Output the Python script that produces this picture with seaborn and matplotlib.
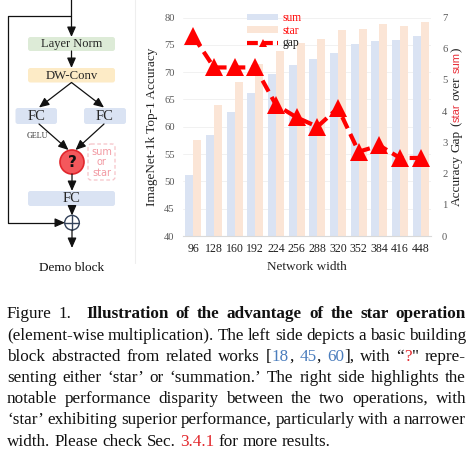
import numpy as np
import pandas as pd
import matplotlib
matplotlib.use("Agg")
import matplotlib.pyplot as plt
import seaborn as sns
from matplotlib.patches import FancyBboxPatch, Circle, Patch
from matplotlib.lines import Line2D

# ---------------- data ----------------
widths = [96, 128, 160, 192, 224, 256, 288, 320, 352, 384, 416, 448]
sum_acc = [51.1, 58.5, 62.7, 66.1, 69.6, 71.3, 72.4, 73.5, 75.2, 75.7, 75.9, 76.6]
star_acc = [57.5, 63.9, 68.2, 71.4, 73.9, 75.3, 76.1, 77.7, 77.9, 78.8, 78.5, 79.1]
gap = [6.4, 5.4, 5.4, 5.4, 4.2, 3.8, 3.5, 4.1, 2.7, 2.9, 2.5, 2.5]
left_ticks = [40, 45, 50, 55, 60, 65, 70, 75, 80]
right_ticks = [0, 1, 2, 3, 4, 5, 6, 7]

SUM_C = "#DAE3F3"
STAR_C = "#FBE5D6"
RED = "#FF0000"
SERIF = "Liberation Serif"

sns.set_theme(style="white")
plt.rcParams["font.family"] = [SERIF, "DejaVu Sans"]

W, H = 474, 455
fig = plt.figure(figsize=(W / 100, H / 100), dpi=100)
fig.patch.set_facecolor("white")

# overlay axes in pixel coordinates (y downward)
ov = fig.add_axes([0, 0, 1, 1], zorder=0)
ov.set_xlim(0, W)
ov.set_ylim(H, 0)
ov.axis("off")
ov.patch.set_alpha(0)

# ---------------- chart ----------------
L, R_, T, B = 183, 431, 17.5, 236
ax = fig.add_axes([L / W, 1 - B / H, (R_ - L) / W, (B - T) / H], zorder=1)
ax.patch.set_alpha(0)
df = pd.DataFrame({
    "width": [str(w) for w in widths] * 2,
    "acc": sum_acc + star_acc,
    "op": ["sum"] * len(widths) + ["star"] * len(widths),
})
sns.barplot(data=df, x="width", y="acc", hue="op", order=[str(w) for w in widths],
            hue_order=["sum", "star"], palette={"sum": SUM_C, "star": STAR_C},
            width=0.78, saturation=1, legend=False, ax=ax, linewidth=0)
ax.set_ylim(40, 80)
ax.set_yticks(left_ticks)
ax.set_xlim(-0.5, len(widths) - 0.5)
ax.set_xlabel("")
ax.set_ylabel("")
ax.yaxis.grid(True, color="#EFEFEF", lw=0.6)
ax.set_axisbelow(True)
for s in ["top", "left", "right"]:
    ax.spines[s].set_visible(False)
ax.spines["bottom"].set_color("#D9D9D9")
ax.spines["bottom"].set_linewidth(0.8)
ax.tick_params(axis="y", length=0, labelsize=7.6, labelcolor="#595959", pad=6)
ax.tick_params(axis="x", length=0, labelsize=8.6, labelcolor="#222222", pad=5)

ax2 = ax.twinx()
ax2.plot(np.arange(len(widths)), gap, color=RED, lw=3, linestyle=(0, (3, 1.5)),
         marker="^", markersize=12.5, markeredgewidth=0, zorder=5)
ax2.set_ylim(0, 7)
ax2.set_yticks(right_ticks)
for s in ["top", "left", "right", "bottom"]:
    ax2.spines[s].set_visible(False)
ax2.tick_params(axis="y", length=0, labelsize=7.6, labelcolor="#595959", pad=8)
ax2.grid(False)

handles = [Patch(facecolor=SUM_C, edgecolor="none"),
           Patch(facecolor=STAR_C, edgecolor="none"),
           Line2D([0], [0], color=RED, lw=3, linestyle=(0, (2.6, 1)), marker="^",
                  markersize=6, markeredgewidth=0)]
leg = ax2.legend(handles, ["sum", "star", "gap"], loc="upper left",
                 bbox_to_anchor=(247 / W, 1 - 12 / H), bbox_transform=fig.transFigure,
                 frameon=False, fontsize=8.3, handlelength=2.7, handleheight=0.45,
                 handletextpad=0.35, labelspacing=0.05, borderpad=0, borderaxespad=0)
for txt, c in zip(leg.get_texts(), [RED, RED, "#111111"]):
    txt.set_color(c)

ov.text(307, 267, "Network width", ha="center", va="center", fontsize=9.5, color="#222222")
ov.text(152, 127, "ImageNet-1k Top-1 Accuracy", ha="center", va="center",
        rotation=90, fontsize=9.5, color="#222222")

fig.canvas.draw()
renderer = fig.canvas.get_renderer()


def measure(s, size, weight="normal", family=SERIF, rotation=0):
    t = ov.text(0, 0, s, fontsize=size, fontweight=weight, family=family, rotation=rotation)
    bb = t.get_window_extent(renderer)
    t.remove()
    return bb.height if rotation else bb.width


# right label with colored words (rotated)
rl_segments = [("Accuracy", "#222222", SERIF, 9.5), (" ", None, SERIF, 9.5),
               ("Gap", "#222222", SERIF, 9.5), (" ", None, SERIF, 9.5),
               ("(", "#222222", SERIF, 9.5), ("star", "#E8303A", "Liberation Sans", 8.0),
               (" ", None, SERIF, 9.5), ("over", "#222222", SERIF, 9.5), (" ", None, SERIF, 9.5),
               ("sum", "#E8303A", "Liberation Sans", 8.0), (")", "#222222", SERIF, 9.5)]
lens = []
for s, c, fam, sz in rl_segments:
    lens.append(sz * 100 / 72 * 0.25 if s == " " else measure(s, sz, family=fam, rotation=90))
total = sum(lens)
ycur = 127 + total / 2
for (s, c, fam, sz), ln in zip(rl_segments, lens):
    if s != " ":
        ov.text(457, ycur, s, rotation=90, ha="center", va="bottom", fontsize=sz,
                family=fam, color=c, rotation_mode="default")
    ycur -= ln

# ---------------- diagram ----------------
DARK = "#262626"


def box(x0, y0, x1, y1, fc, label, size=9.0):
    p = FancyBboxPatch((x0, y0), x1 - x0, y1 - y0,
                       boxstyle="round,pad=0,rounding_size=2.5", fc=fc, ec="none")
    ov.add_patch(p)
    ov.text((x0 + x1) / 2, (y0 + y1) / 2 + 0.5, label, ha="center", va="center",
            fontsize=size, color=DARK)


def arrow(p0, p1):
    ov.annotate("", xy=p1, xytext=p0,
                arrowprops=dict(arrowstyle="-|>,head_length=0.5,head_width=0.22",
                                color="#111111", lw=0.9, shrinkA=0, shrinkB=0))


box(28, 37, 115, 51, "#DDEBD7", "Layer Norm")
box(28, 68, 115, 82.5, "#FDEBC6", "DW-Conv", 9.2)
box(15.5, 108, 57, 124, "#DAE3F3", "FC", 10.5)
box(84, 108, 126, 124, "#DAE3F3", "FC", 10.5)
box(28, 191, 115, 206, "#DAE3F3", "FC", 10.5)

# main path
arrow((71.5, 0), (71.5, 37))
arrow((71.5, 51), (71.5, 68))
arrow((71.5, 82.5), (39, 107.5))
arrow((71.5, 82.5), (104, 107.5))
arrow((39, 124), (68.5, 150))
arrow((104, 124), (75.5, 150))
arrow((72, 174), (72, 191))
arrow((72, 206), (72, 215.5))
arrow((72, 230), (72, 248))
# skip connection
ov.plot([71.5, 8.5, 8.5, 60], [16, 16, 222.7, 222.7], color="#111111", lw=0.9)
arrow((58, 222.7), (65, 222.7))

# red "?" node
ov.add_patch(Circle((72, 162), 12, fc="#F4585C", ec="#E1262C", lw=1.2))
ov.text(72, 162.5, "?", ha="center", va="center", fontsize=11, fontweight="bold",
        family="DejaVu Sans", color="#111111")
# plus node
ov.add_patch(Circle((72, 222.7), 7.3, fc="white", ec="#33425A", lw=1.0))
ov.plot([64.7, 79.3], [222.7, 222.7], color="#33425A", lw=1.0)
ov.plot([72, 72], [215.4, 230], color="#33425A", lw=1.0)

ov.text(27, 136, "GELU", ha="left", va="center", fontsize=5.8, color="#333333")

ov.add_patch(FancyBboxPatch((88, 144), 27, 36, boxstyle="round,pad=0,rounding_size=3",
                            fc="none", ec="#F6C3C8", lw=0.9, linestyle=(0, (3, 2))))
for yy, s in zip([152, 162, 172.5], ["sum", "or", "star"]):
    ov.text(101.5, yy, s, ha="center", va="center", fontsize=7, family="DejaVu Sans",
            color="#F29AA3")

ov.text(72, 268, "Demo block", ha="center", va="center", fontsize=9.5, color="#111111")
ov.plot([135, 135], [0, 263], color="#EEEEEE", lw=0.8)

# ---------------- caption ----------------
K = "#111111"
BL = "#4A7DBD"
RC = "#E2262B"


def plain(s, color=K, weight="normal"):
    return [[(w, color, weight)] for w in s.split()]


lines = [
    plain("Figure 1.") + [None] + plain("Illustration of the advantage of the star operation", K, "bold"),
    plain("(element-wise multiplication). The left side depicts a basic building"),
    plain("block abstracted from related works")
    + [[("[", K, "normal"), ("18", BL, "normal"), (",", K, "normal")],
       [("45", BL, "normal"), (",", K, "normal")],
       [("60", BL, "normal"), ("],", K, "normal")],
       [("with", K, "normal")],
       [("\u201c", K, "normal"), ("?", RC, "normal"), ("\"", K, "normal")],
       [("repre-", K, "normal")]],
    plain("senting either \u2018star\u2019 or \u2018summation.\u2019 The right side highlights the"),
    plain("notable performance disparity between the two operations, with"),
    plain("\u2018star\u2019 exhibiting superior performance, particularly with a narrower"),
    plain("width. Please check Sec.") + [[("3.4.1", RC, "normal")]] + plain("for more results."),
]


def word_width(word, size):
    full = "".join(s for s, c, wt in word)
    return measure(full, size, word[0][2])


def seg_offsets(word, size):
    # ink-left offset of each segment relative to the ink-left of the whole word
    offs = []
    prefix = ""
    for s, c, wt in word:
        offs.append(0.0 if not prefix else measure(prefix + s, size, wt) - measure(s, size, wt))
        prefix += s
    return offs


# fit font size so the last (unjustified) line spans its measured width
f0 = 11.0
last = lines[-1]
nat = sum(word_width(w, f0) for w in last) + (len(last) - 1) * f0 * 100 / 72 * 0.25
fs = f0 * 324 / nat

X0, X1 = 7, 466
base0, step = 318.3, 21.2
for i, line in enumerate(lines):
    y = base0 + i * step
    gaps_w = []
    words = []
    wt = 1
    for w in line:
        if w is None:
            wt = 2
            continue
        words.append(w)
        gaps_w.append(wt)
        wt = 1
    gaps_w = gaps_w[1:]
    ww = [word_width(w, fs) for w in words]
    if i < len(lines) - 1:
        unit = (X1 - X0 - sum(ww)) / sum(gaps_w)
    else:
        unit = fs * 100 / 72 * 0.25
    x = X0
    for j, (w, wdt) in enumerate(zip(words, ww)):
        for (s, c, wgt), off in zip(w, seg_offsets(w, fs)):
            ov.text(x + off, y, s, ha="left", va="baseline", fontsize=fs, fontweight=wgt,
                    color=c, family=SERIF)
        if j < len(gaps_w):
            x += wdt + unit * gaps_w[j]

fig.savefig("out.png", dpi=100)
